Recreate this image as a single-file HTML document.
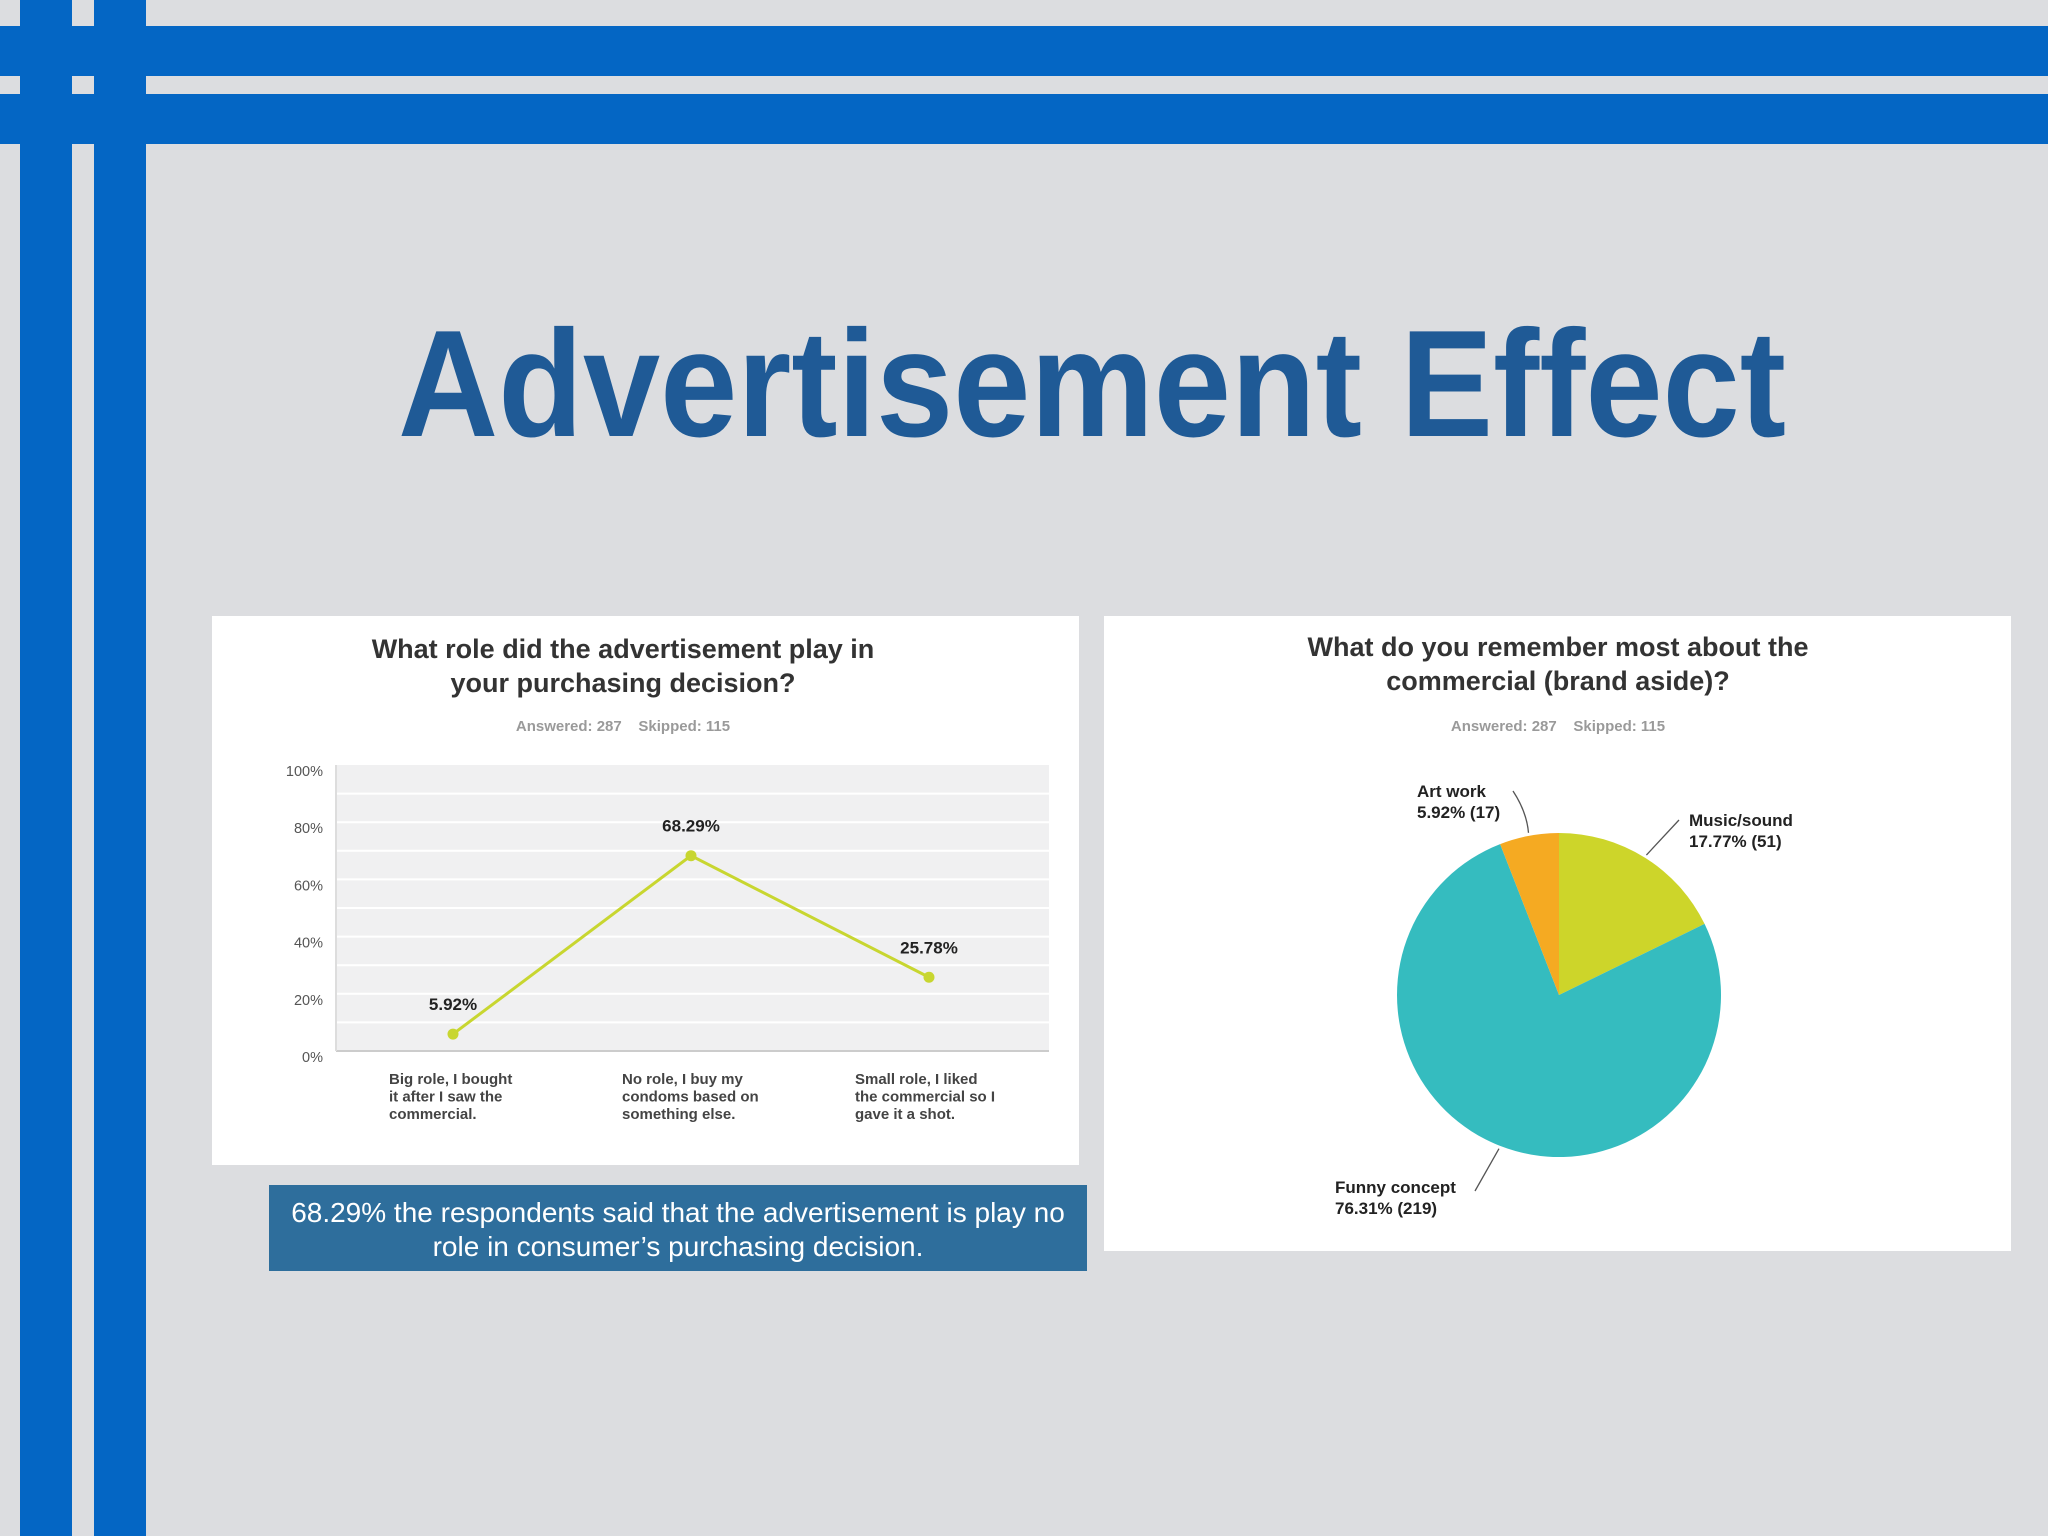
<!DOCTYPE html>
<html><head><meta charset="utf-8"><style>
html,body{margin:0;padding:0;background:#dcdde0;}
svg{display:block;font-family:"Liberation Sans",sans-serif;}
</style></head><body>
<svg width="2048" height="1536" viewBox="0 0 2048 1536">
<rect x="0" y="0" width="2048" height="1536" fill="#dcdde0"/>
<g>
<rect x="20" y="0" width="52" height="1536" fill="#0466c4"/>
<rect x="94" y="0" width="52" height="1536" fill="#0466c4"/>
<rect x="0" y="26" width="2048" height="50" fill="#0466c4"/>
<rect x="0" y="94" width="2048" height="50" fill="#0466c4"/>
</g>
<text x="1092" y="436" text-anchor="middle" font-size="152" font-weight="bold" fill="#1f5a96" textLength="1388" lengthAdjust="spacingAndGlyphs">Advertisement Effect</text>

<rect x="212" y="616" width="867" height="549" fill="#fff"/>
<g font-weight="bold" fill="#333" font-size="27" text-anchor="middle">
<text x="623" y="658">What role did the advertisement play in</text>
<text x="623" y="692">your purchasing decision?</text></g>
<text x="623" y="731" text-anchor="middle" font-size="15" font-weight="bold" fill="#9a9a9a">Answered: 287 &#160;&#160;&#160;Skipped: 115</text>
<g id="lineChart"></g>

<rect x="269" y="1185" width="818" height="86" fill="#2e6e9c"/>
<g fill="#fff" font-size="28" text-anchor="middle">
<text x="678" y="1222">68.29% the respondents said that the advertisement is play no</text>
<text x="678" y="1256">role in consumer’s purchasing decision.</text></g>

<rect x="1104" y="616" width="907" height="635" fill="#fff"/>
<g font-weight="bold" fill="#333" font-size="27" text-anchor="middle">
<text x="1558" y="656">What do you remember most about the</text>
<text x="1558" y="690">commercial (brand aside)?</text></g>
<text x="1558" y="731" text-anchor="middle" font-size="15" font-weight="bold" fill="#9a9a9a">Answered: 287 &#160;&#160;&#160;Skipped: 115</text>
<g id="pieChart"></g>
</svg>
<script>
const lineCategories=[["Big role, I bought","it after I saw the","commercial."],["No role, I buy my","condoms based on","something else."],["Small role, I liked","the commercial so I","gave it a shot."]];
const lineValues=[5.92,68.29,25.78];
const lineLabels=["5.92%","68.29%","25.78%"];
const yTicks=[0,20,40,60,80,100];
const yTickLabels=["0%","20%","40%","60%","80%","100%"];
const pieCategories=["Music/sound","Funny concept","Art work"];
const pieValues=[17.77,76.31,5.92];
const pieLabels=["17.77% (51)","76.31% (219)","5.92% (17)"];

const NS="http://www.w3.org/2000/svg";
function mk(t,a,p){const e=document.createElementNS(NS,t);for(const k in a)e.setAttribute(k,a[k]);p.appendChild(e);return e;}
const L=document.getElementById('lineChart');
const px0=336,px1=1049,py0=1051,py1=765;
const ys=v=>py0-(v/100)*(py0-py1);
const xs=i=>453+i*238;
const bg=mk('rect',{x:px0,y:py1,width:px1-px0,height:py0-py1,fill:'#f0f0f1'},L);


for(let v=10;v<100;v+=10){const g=mk('line',{x1:px0,x2:px1,y1:ys(v),y2:ys(v),stroke:'#fff','stroke-width':2},L);

}
const ax=mk('line',{x1:px0,x2:px1,y1:py0,y2:py0,stroke:'#ccc','stroke-width':2},L);


const ay=mk('line',{x1:px0,x2:px0,y1:py1,y2:py0,stroke:'#ddd','stroke-width':2},L);


yTicks.forEach((v,i)=>{const t=mk('text',{x:323,y:ys(v)+11,'text-anchor':'end','font-size':14.5,fill:'#555'},L);t.textContent=yTickLabels[i];

});
const pl=mk('polyline',{points:lineValues.map((v,i)=>xs(i)+','+ys(v)).join(' '),fill:'none',stroke:'#c8d630','stroke-width':3},L);


lineValues.forEach((v,i)=>{const c=mk('circle',{cx:xs(i),cy:ys(v),r:5.5,fill:'#c8d630'},L);


const t=mk('text',{x:xs(i),y:ys(v)-24,'text-anchor':'middle','font-size':17,'font-weight':'bold',fill:'#222'},L);t.textContent=lineLabels[i];


const g=mk('g',{},L);


lineCategories[i].forEach((s,j)=>{const tt=mk('text',{x:xs(i)-64-5*i,y:1084+j*17.5,'font-size':15,'font-weight':'bold',fill:'#444'},g);tt.textContent=s;});});

const P=document.getElementById('pieChart');
const cx=1559,cy=995,r=162;
const colors=["#cdd52a","#35bcbf","#f5aa22"];
const total=pieValues.reduce((a,b)=>a+b,0);
let a0=-Math.PI/2;
const labelPos=[[1689,826,'start'],[1335,1193,'start'],[1417,797,'start']];
pieValues.forEach((v,i)=>{const a1=a0+v/total*2*Math.PI;
const x0=cx+r*Math.cos(a0),y0=cy+r*Math.sin(a0),x1=cx+r*Math.cos(a1),y1=cy+r*Math.sin(a1);
const s=mk('path',{d:`M${cx},${cy}L${x0},${y0}A${r},${r} 0 ${(a1-a0)>Math.PI?1:0} 1 ${x1},${y1}Z`,fill:colors[i]},P);


const am=(a0+a1)/2;const ex=cx+(r+3)*Math.cos(am),ey=cy+(r+3)*Math.sin(am);
const lp=labelPos[i];
let lx,ly;
if(i===0){lx=lp[0]-10;ly=lp[1]-6;}else if(i===1){lx=lp[0]+140;ly=lp[1]-2;}else{lx=lp[0]+96;ly=lp[1]-6;}
const ld=mk('path',{d:`M${ex},${ey}Q${(ex+lx)/2+(i===2?6:0)},${(ey+ly)/2} ${lx},${ly}`,fill:'none',stroke:'#555','stroke-width':1.3},P);


const t1=mk('text',{x:lp[0],y:lp[1],'font-size':17,'font-weight':'bold',fill:'#222'},P);t1.textContent=pieCategories[i];


const t2=mk('text',{x:lp[0],y:lp[1]+21,'font-size':17,'font-weight':'bold',fill:'#222'},P);t2.textContent=pieLabels[i];


a0=a1;});
</script>
</body></html>
